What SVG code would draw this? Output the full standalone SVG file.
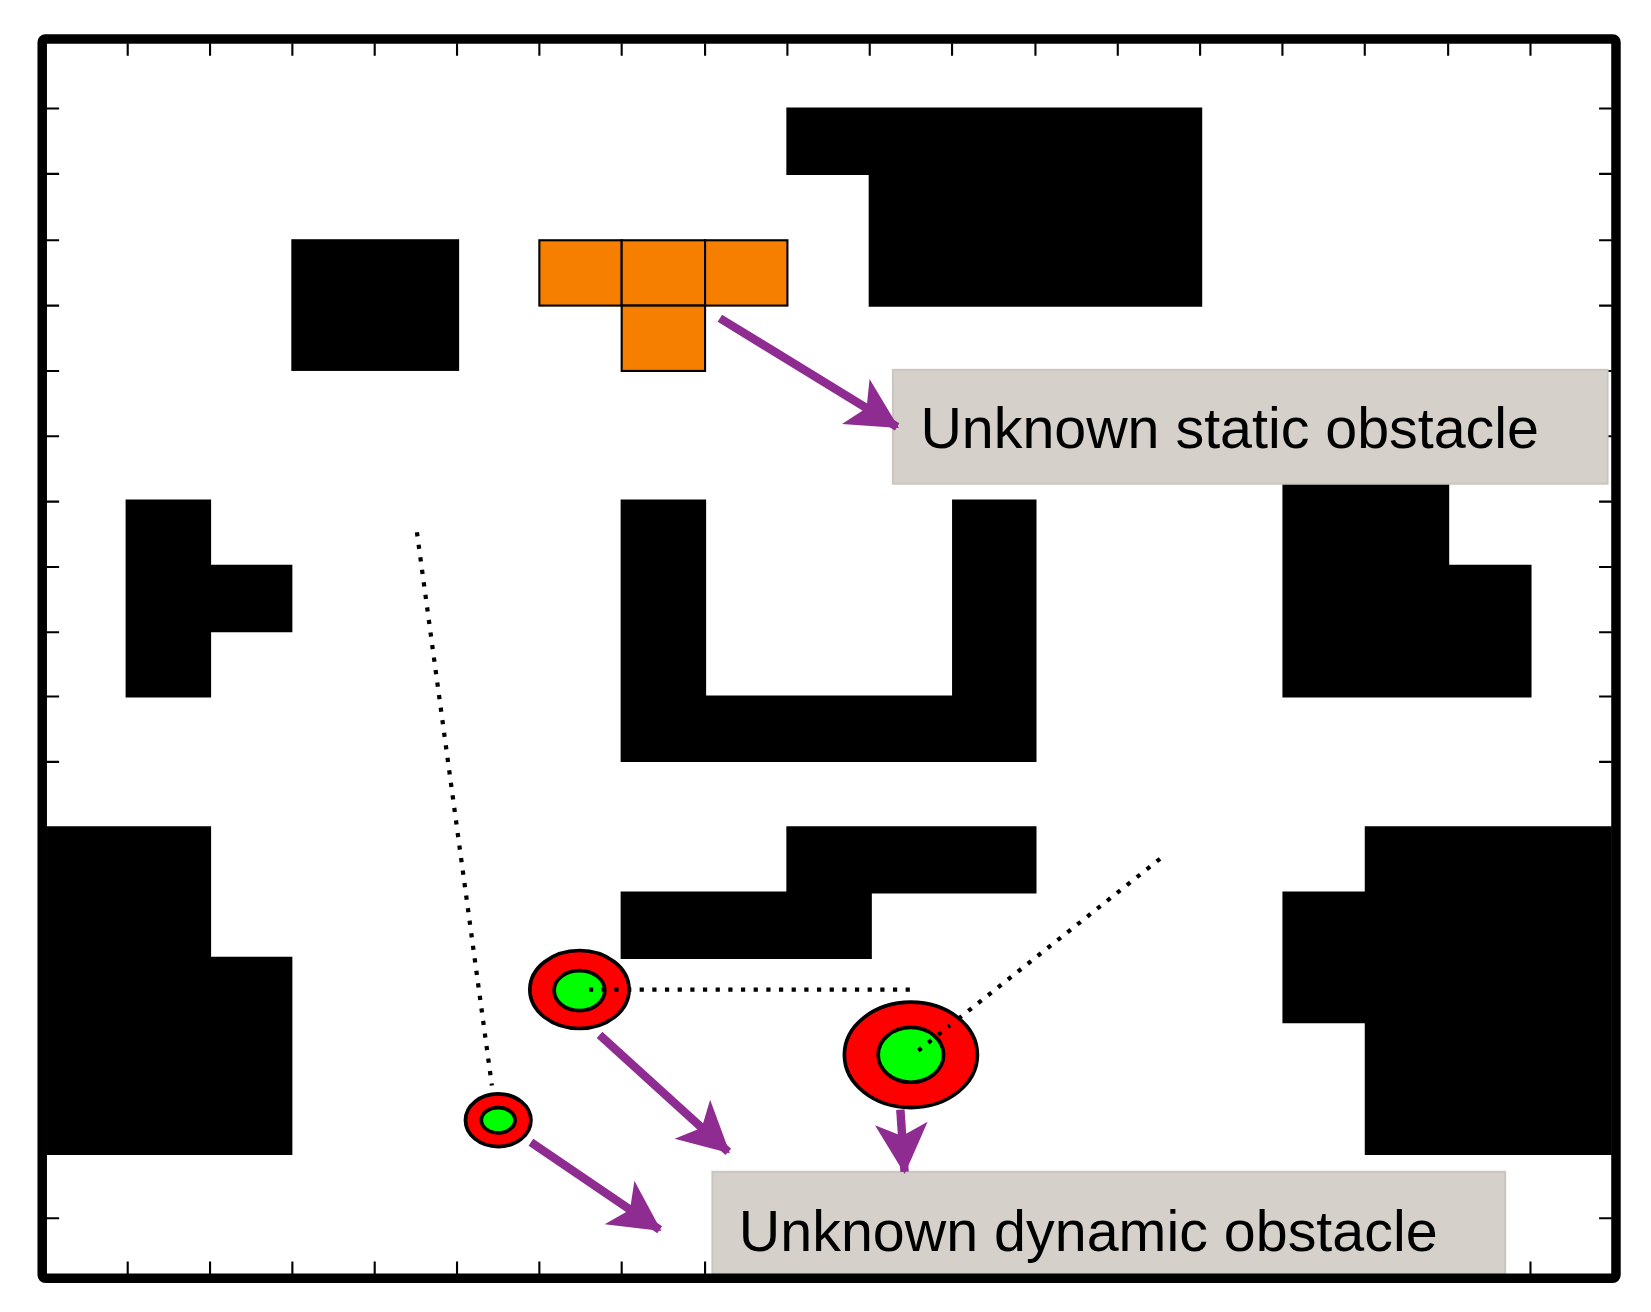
<svg xmlns="http://www.w3.org/2000/svg" width="1651" height="1312" viewBox="0 0 1651 1312">
<style>
.ob{fill:#000}
.or{fill:#f77f00;stroke:#000;stroke-width:2}
.lab{fill:#d6d0ca;stroke:#cbc6c0;stroke-width:2}
.txt{font-family:"Liberation Sans",Arial,sans-serif;font-size:54px;fill:#000}
.dot{stroke:#000;stroke-width:4;stroke-dasharray:4 8;fill:none}
.arr{stroke:#8e2c91;stroke-width:8;fill:none;marker-end:url(#ah)}
.red{fill:#f00;stroke:#000;stroke-width:3.5}
.grn{fill:#0f0;stroke:#000;stroke-width:3.5}
.tk{stroke:#000;stroke-width:2}
</style>
<defs>
<marker id="ah" markerUnits="userSpaceOnUse" markerWidth="60" markerHeight="60" refX="46" refY="25" orient="auto" viewBox="0 0 60 50">
<path d="M0,0 L48,25 L0,50 L12,25 Z" fill="#8e2c91"/>
</marker>
</defs>
<rect width="1651" height="1312" fill="#fff"/>
<g transform="scale(1.0555,1.0538)">
<g id="ticks">
<path class="tk" d="M121,41v12M199,41v12M277,41v12M355,41v12M433,41v12M511,41v12M589,41v12M668,41v12M746,41v12M824,41v12M902,41v12M981,41v12M1059,41v12M1137,41v12M1215,41v12M1293,41v12M1372,41v12M1450,41v12
M121,1209v-12M199,1209v-12M277,1209v-12M355,1209v-12M433,1209v-12M511,1209v-12M589,1209v-12M668,1209v-12M746,1209v-12M824,1209v-12M902,1209v-12M981,1209v-12M1059,1209v-12M1137,1209v-12M1215,1209v-12M1293,1209v-12M1372,1209v-12M1450,1209v-12
M44,103h12M44,165h12M44,228h12M44,290h12M44,352h12M44,414h12M44,476h12M44,538h12M44,600h12M44,661h12M44,723h12M44,1156h12
M1527,103h-12M1527,165h-12M1527,228h-12M1527,290h-12M1527,352h-12M1527,414h-12M1527,476h-12M1527,538h-12M1527,600h-12M1527,661h-12M1527,723h-12M1527,1156h-12"/>
</g>
<g id="obstacles">
<path class="ob" d="M745,102H1139V291H823V166H745Z"/>
<rect class="ob" x="276" y="227" width="159" height="125"/>
<path class="ob" d="M119,474H200V536H277V600H200V662H119Z"/>
<path class="ob" d="M588,474H669V660H902V474H982V723H588Z"/>
<path class="ob" d="M1215,414H1373V536H1451V662H1215Z"/>
<path class="ob" d="M44,784H200V908H277V1096H44Z"/>
<path class="ob" d="M745,784H982V848H826V910H588V846H745Z"/>
<path class="ob" d="M1293,784H1527V1096H1293V971H1215V846H1293Z"/>
</g>
<g id="static-obstacle">
<rect class="or" x="511" y="228" width="78" height="62"/>
<rect class="or" x="589" y="228" width="79" height="62"/>
<rect class="or" x="668" y="228" width="78" height="62"/>
<rect class="or" x="589" y="290" width="79" height="62"/>
</g>
<g id="label-static">
<rect class="lab" x="846" y="351" width="677" height="108"/>
<text class="txt" x="872" y="425" textLength="586" lengthAdjust="spacingAndGlyphs">Unknown static obstacle</text>
</g>
<g id="label-dynamic">
<rect class="lab" x="675" y="1112" width="751" height="97"/>
<text class="txt" x="700" y="1187" textLength="662" lengthAdjust="spacingAndGlyphs">Unknown dynamic obstacle</text>
</g>
<g id="connectors">
<path class="dot" d="M395,505L466,1030"/>
<path class="dot" d="M558,939H865"/>
<path class="dot" d="M1099,815L870,997"/>
<path class="arr" d="M682,302L850,405"/>
<path class="arr" d="M568,982L690,1093"/>
<path class="arr" d="M503,1084L625,1167"/>
<path class="arr" d="M853,1053L857,1112"/>
</g>
<g id="dyn1"><ellipse class="red" cx="549" cy="939" rx="47" ry="37"/><ellipse class="grn" cx="549" cy="940" rx="24" ry="19"/></g>
<g id="dyn2"><ellipse class="red" cx="863" cy="1001" rx="63" ry="50"/><ellipse class="grn" cx="863" cy="1001" rx="31" ry="26"/></g>
<g id="dyn3"><ellipse class="red" cx="472" cy="1063" rx="31" ry="25"/><ellipse class="grn" cx="472" cy="1063" rx="16" ry="12"/></g>
<path class="dot" d="M558,939H598M870,997L900,973" />
<rect x="40" y="37" width="1491" height="1176" fill="none" stroke="#000" stroke-width="9" rx="3"/>
</g>
</svg>
